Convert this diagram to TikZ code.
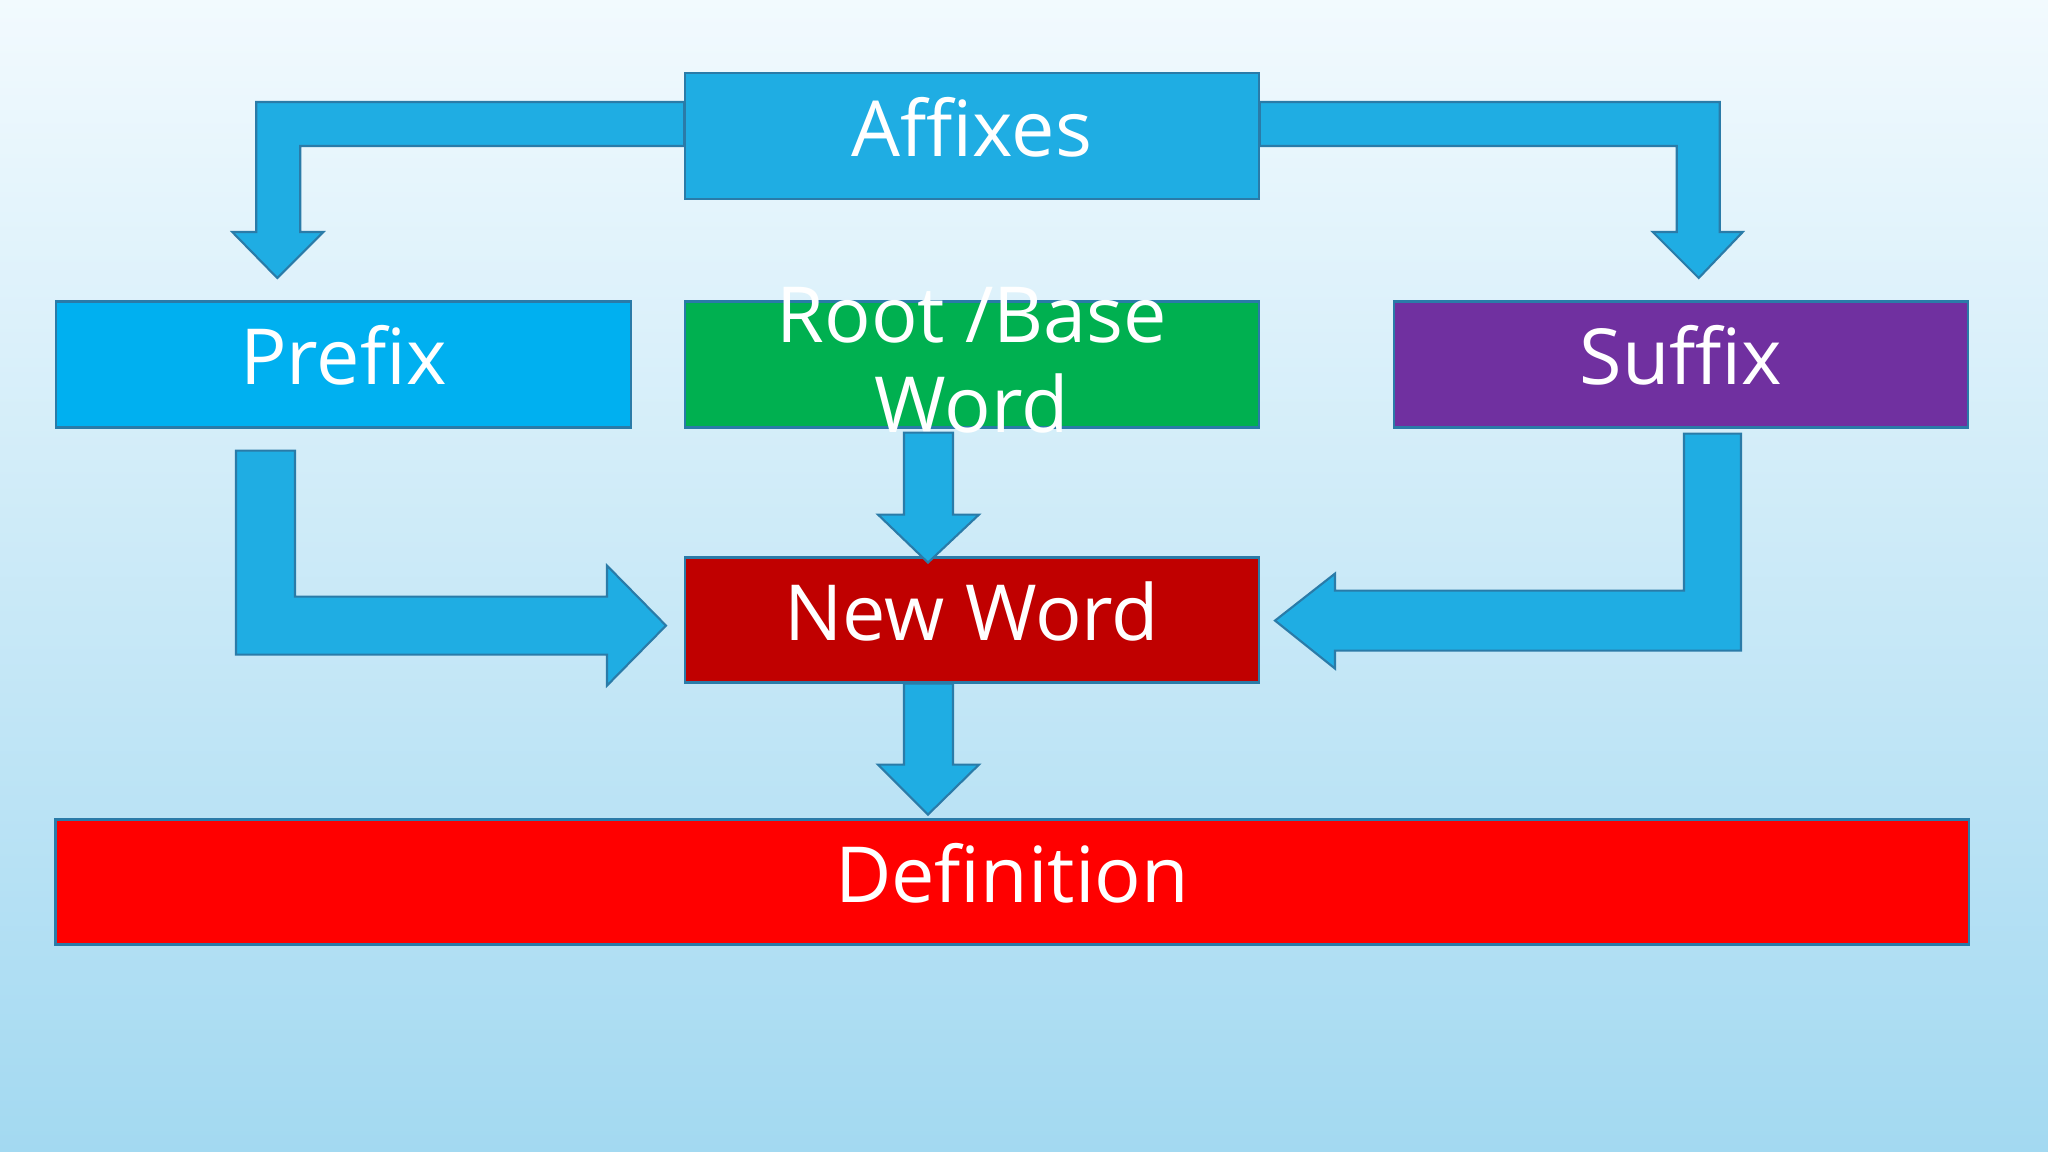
\documentclass[tikz,border=0pt]{standalone}
\usepackage{fontspec}
\setmainfont{Open Sans}
\usetikzlibrary{calc}

\definecolor{bgtop}{HTML}{F2FAFE}
\definecolor{bgmid}{HTML}{C8E9F8}
\definecolor{bgbot}{HTML}{A3D9F1}
\definecolor{boxline}{HTML}{2A7BA8}
\definecolor{arrowblue}{HTML}{1FADE3}
\definecolor{affixblue}{HTML}{1FADE3}
\definecolor{prefixblue}{HTML}{00B0F0}
\definecolor{rootgreen}{HTML}{00B050}
\definecolor{suffixpurple}{HTML}{7030A0}
\definecolor{newred}{HTML}{C00000}
\definecolor{defred}{HTML}{FF0000}

\newcommand{\boxfont}{\fontsize{22}{25.6}\selectfont}

\begin{document}
\begin{tikzpicture}[
		x=0.01cm, y=-0.01cm,
		box/.style={
			draw=boxline, line width=0.6pt, rectangle, text=white, font=\boxfont,
			minimum height=1.26cm, inner sep=0pt, align=center
		},
		oneline/.style={text height=0.6cm, text depth=0.2cm},
		blockarrow/.style={
			fill=arrowblue, draw=boxline, line width=0.6pt, line join=miter
		}
		]
		
		\useasboundingbox (0,0) rectangle (2048,1152);
		\shade[top color=bgtop, middle color=bgmid, bottom color=bgbot] (0,0) rectangle (2048,1152);
		
		\node[box, oneline, fill=affixblue, minimum width=5.73cm] (affixes) at (972,136) {Affixes};
		\node[box, oneline, fill=prefixblue, minimum width=5.75cm] (prefix) at (343.5,364.5) {Prefix};
		\node[box, fill=rootgreen, minimum width=5.73cm] (root) at (972,364.5) {};
		\node[text=white, font=\boxfont, align=center] (roottext) at (972,360) {Root /Base\\Word};
		\node[box, oneline, fill=suffixpurple, minimum width=5.74cm] (suffix) at (1681,364.5) {Suffix};
		\node[box, oneline, fill=newred, minimum width=5.73cm, minimum height=1.25cm] (newword) at (972,620) {New Word};
		\node[box, oneline, fill=defred, minimum width=19.12cm, minimum height=1.25cm] (definition) at (1012,882) {Definition};
		
		% affixes to prefix and suffix
		\draw[blockarrow] ($(affixes.west)+(0,-34)$) -- ++(-428,0) -- ++(0,130) -- ++(-24,0)
			-- ++(45,46) -- ++(46,-46) -- ++(-23,0) -- ++(0,-86) -- ++(384,0) -- cycle;
		\draw[blockarrow] ($(affixes.east)+(0,-34)$) -- ++(460,0) -- ++(0,130) -- ++(23,0)
			-- ++(-44,46) -- ++(-46,-46) -- ++(24,0) -- ++(0,-86) -- ++(-417,0) -- cycle;
		
		% into new word
		\draw[blockarrow] ($(root.south)+(-68,4)$) -- ++(49,0) -- ++(0,82) -- ++(26,0)
			-- ++(-51,48) -- ++(-50,-48) -- ++(26,0) -- cycle;
		\draw[blockarrow] ($(prefix.south)+(-107.5,22)$) -- ++(59,0) -- ++(0,146) -- ++(312,0)
			-- ++(0,-31) -- ++(59,60) -- ++(-59,60) -- ++(0,-31) -- ++(-371,0) -- cycle;
		\draw[blockarrow] ($(suffix.south)+(60,5)$) -- ++(-57,0) -- ++(0,157) -- ++(-349,0)
			-- ++(0,-17) -- ++(-60,47) -- ++(60,48) -- ++(0,-18) -- ++(406,0) -- cycle;
		
		% new word to definition
		\draw[blockarrow] ($(newword.south)+(-68,0)$) -- ++(49,0) -- ++(0,81) -- ++(26,0)
			-- ++(-51,50) -- ++(-50,-50) -- ++(26,0) -- cycle;
	\end{tikzpicture}
\end{document}
